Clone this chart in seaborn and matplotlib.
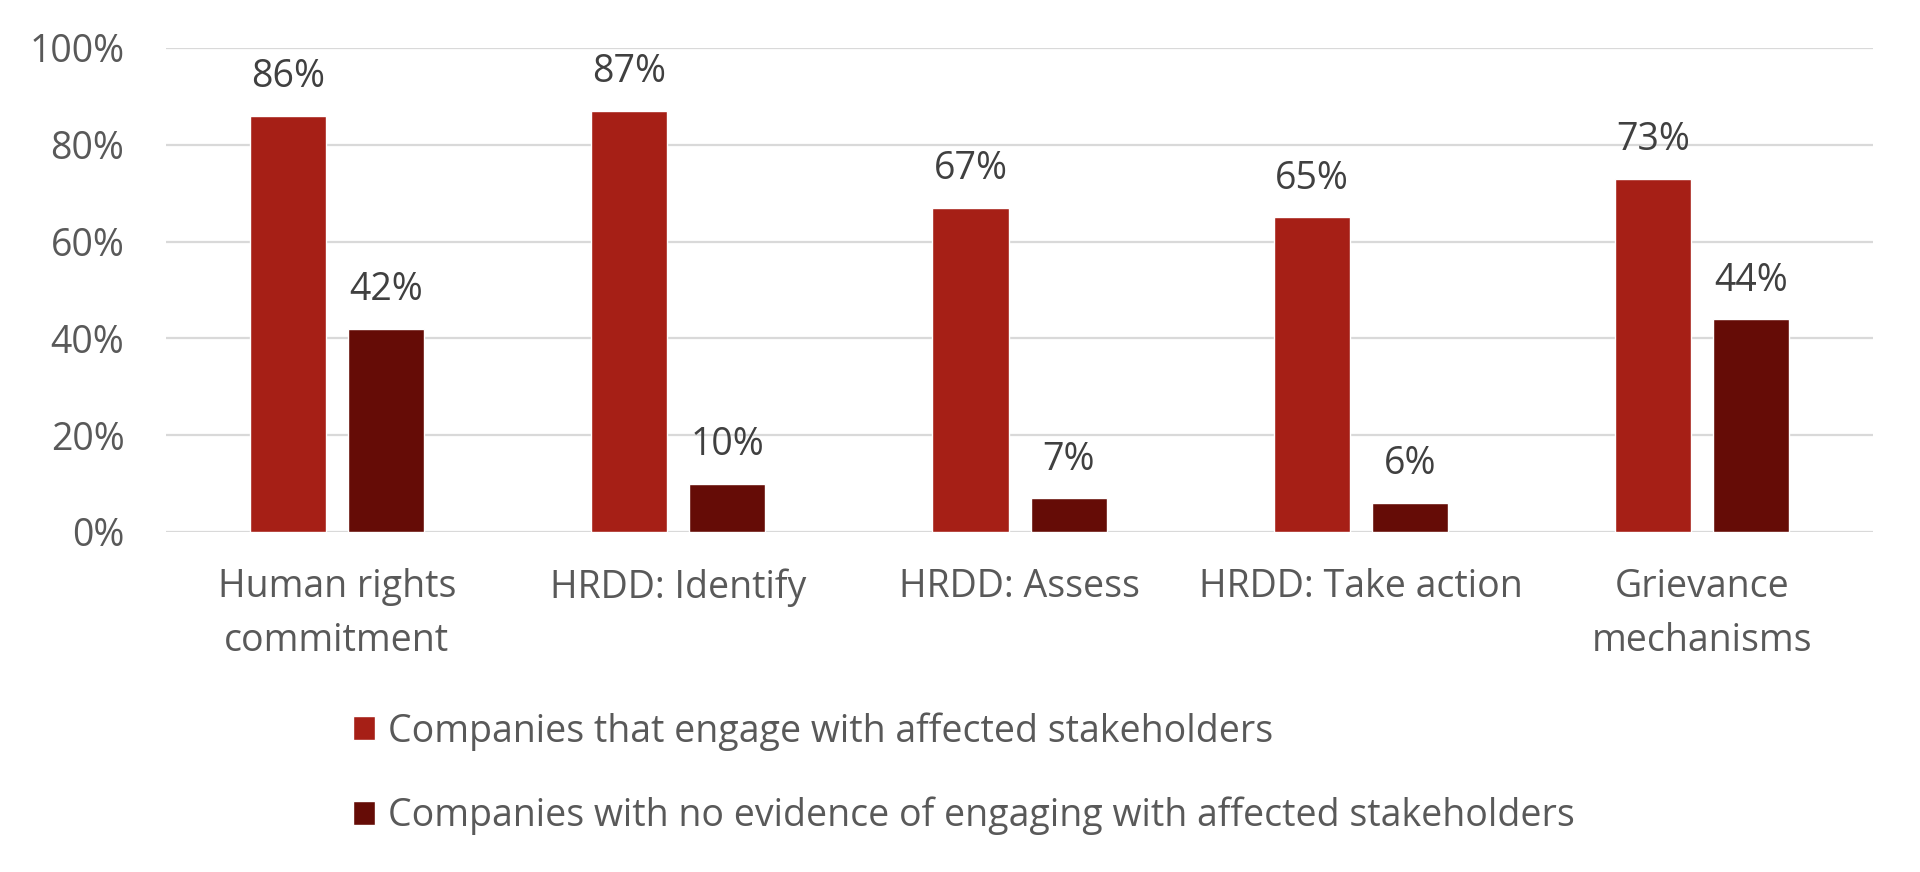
import pandas as pd
import matplotlib.pyplot as plt
import seaborn as sns
from matplotlib.ticker import FuncFormatter

# Chart values
categories = ["Human rights\ncommitment", "HRDD: Identify", "HRDD: Assess",
              "HRDD: Take action", "Grievance\nmechanisms"]
engage = [86, 87, 67, 65, 73]
no_evidence = [42, 10, 7, 6, 44]
series = ["Companies that engage with affected stakeholders",
          "Companies with no evidence of engaging with affected stakeholders"]

df = pd.DataFrame({
    "category": categories * 2,
    "value": engage + no_evidence,
    "group": [series[0]] * len(categories) + [series[1]] * len(categories),
})

sns.set_theme(style="white")
plt.rcParams["font.family"] = ["Open Sans", "DejaVu Sans"]

fig = plt.figure(figsize=(19.2, 8.72), dpi=100)
ax = fig.add_axes([0.0865, 0.39, 0.889, 0.555])

sns.barplot(data=df, x="category", y="value", hue="group",
            palette=["#A61F16", "#650C06"], width=0.575, gap=0.224,
            saturation=1, ax=ax)

ax.set_ylim(0, 100)
ax.set_xlim(-0.5, len(categories) - 0.5)
ax.set_yticks(range(0, 101, 20))
ax.yaxis.set_major_formatter(FuncFormatter(lambda v, p: f"{v:.0f}%"))
ax.grid(axis="y", color="#D9D9D9", linewidth=1.6)
ax.set_axisbelow(True)
for s in ax.spines.values():
    s.set_visible(False)
ax.tick_params(axis="y", length=0, pad=30, labelsize=27, labelcolor="#595959")
ax.tick_params(axis="x", length=0, pad=26, labelsize=27, labelcolor="#595959")
for t in ax.get_xticklabels():
    t.set_linespacing(1.55)
ax.set_xlabel("")
ax.set_ylabel("")

for cont in ax.containers:
    ax.bar_label(cont, labels=[f"{v:.0f}%" for v in cont.datavalues],
                 padding=14, fontsize=27, color="#404040")

handles, labels = ax.get_legend_handles_labels()
ax.get_legend().remove()
fig.legend(handles, labels, loc="upper center", bbox_to_anchor=(0.502, 0.205),
           ncol=1, frameon=False, fontsize=27, labelcolor="#595959",
           handlelength=0.6, handleheight=0.6, handletextpad=0.35,
           labelspacing=1.22, borderpad=0)

fig.savefig("out.png", dpi=100)
